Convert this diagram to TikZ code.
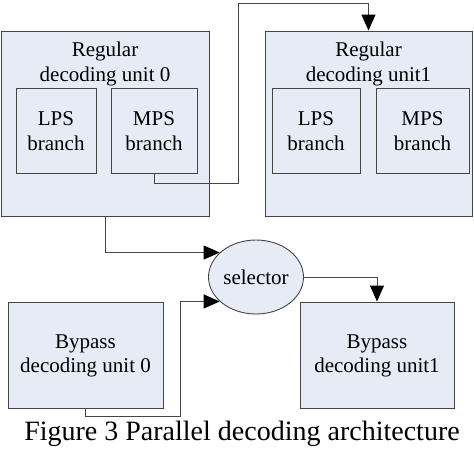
\documentclass[tikz,border=0pt]{standalone}
\usepackage{fontspec}
\setmainfont{Liberation Serif}
\usetikzlibrary{arrows.meta,shapes.geometric}
\definecolor{boxfill}{HTML}{E6EBF5}
\definecolor{boxline}{HTML}{454545}
\tikzset{
  box/.style={draw=boxline,fill=boxfill,line width=0.9pt,inner sep=0pt,anchor=center},
  lbl/.style={font=\fontsize{21}{24.5}\selectfont,align=center,inner sep=0pt},
  conn/.style={draw=boxline,line width=0.9pt},
  arr/.style={conn,-{Stealth[inset=0pt,length=16pt,width=14pt,black]}}
}
\begin{document}
\begin{tikzpicture}[x=1pt,y=-1pt]
\useasboundingbox (0,0) rectangle (474,448);
% regular unit 0
\node[box,minimum width=208pt,minimum height=185pt] (u0) at (105,123.5) {};
\node[lbl] (u0t) at (105,64) {Regular\\decoding unit 0};
\node[box,minimum width=80pt,minimum height=85pt] (lps0) at (56,130.5) {};
\node[lbl] (lps0t) at (56,131) {LPS\\branch};
\node[box,minimum width=86pt,minimum height=85pt] (mps0) at (154,130.5) {};
\node[lbl] (mps0t) at (154,131) {MPS\\branch};
% regular unit 1
\node[box,minimum width=207pt,minimum height=185pt] (u1) at (368.5,123.5) {};
\node[lbl] (u1t) at (368.5,64) {Regular\\decoding unit1};
\node[box,minimum width=88pt,minimum height=85pt] (lps1) at (316,130.5) {};
\node[lbl] (lps1t) at (316,131) {LPS\\branch};
\node[box,minimum width=93pt,minimum height=85pt] (mps1) at (422.5,130.5) {};
\node[lbl] (mps1t) at (422.5,131) {MPS\\branch};
% selector
\node[box,ellipse,minimum width=95pt,minimum height=74pt] (sel) at (256,277) {};
\node[lbl] (selt) at (256,277) {selector};
% bypass units
\node[box,minimum width=155pt,minimum height=106pt] (b0) at (85.5,355) {};
\node[lbl] (b0t) at (85.5,356) {Bypass\\decoding unit 0};
\node[box,minimum width=154pt,minimum height=106pt] (b1) at (377,355) {};
\node[lbl] (b1t) at (377,356) {Bypass\\decoding unit1};
% connectors
\coordinate (c1) at (238,183);
\coordinate (c2) at (238,3);
\draw[arr] (mps0.south) |- (c1) -- (c2) -| (u1.north);
\draw[arr] (u0.south) |- (sel.146);
\coordinate (c4) at (180,416);
\draw[arr] (b0.south) |- (c4) |- (sel.214);
\draw[arr] (sel.east) -| (b1.north);
% caption
\node[font=\fontsize{28}{31}\selectfont,inner sep=0pt] (cap) at (242,434) {Figure 3 Parallel decoding architecture};
\end{tikzpicture}
\end{document}
